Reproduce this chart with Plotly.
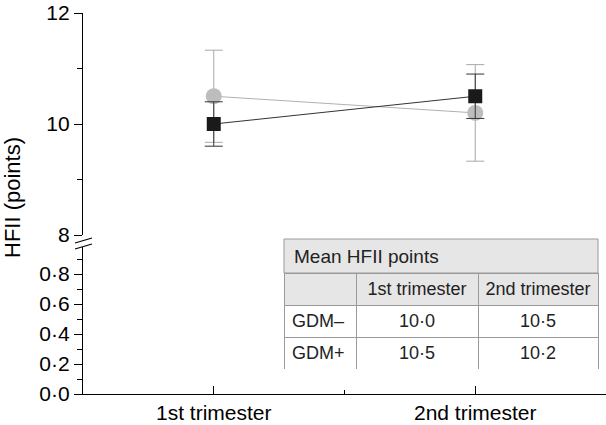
import plotly.graph_objects as go

# Mean HFII points per trimester
trimesters = ["1st trimester", "2nd trimester"]
trimester_pos = [1, 2]
groups = ["GDM–", "GDM+"]
gdm_neg_mean = [10.0, 10.5]
gdm_neg_err = [0.40, 0.40]
gdm_pos_mean = [10.5, 10.2]
gdm_pos_err = [0.83, 0.87]

FONT = "Liberation Sans, Arial, Helvetica, sans-serif"


def fmt(v):
    return f"{v:.1f}".replace(".", "·")


def nobreak(s):
    return s.replace(" ", "\u00a0")


# plot area in pixels: left 83, right 606, top 13, bottom 394
W, H = 606, 425
L, R, T, B = 83, 0, 13, 31
PW, PH = W - L - R, H - T - B


def px(x):
    return (x - L) / PW


def py(y):
    return (H - B - y) / PH


fig = go.Figure()

# empty trace so the lower (0-1) axis segment exists
fig.add_trace(go.Scatter(x=trimester_pos, y=[None, None], mode="markers",
                         xaxis="x", yaxis="y", showlegend=False, hoverinfo="skip"))

# GDM+ (grey circles)
fig.add_trace(go.Scatter(
    x=trimester_pos, y=gdm_pos_mean,
    mode="lines+markers",
    line=dict(color="#b0b0b0", width=1),
    marker=dict(symbol="circle", size=16, color="#bdbdbd"),
    error_y=dict(type="data", array=gdm_pos_err, color="#a8a8a8", thickness=1, width=9),
    xaxis="x", yaxis="y2", showlegend=False, name="GDM+"
))

# GDM- (black squares)
fig.add_trace(go.Scatter(
    x=trimester_pos, y=gdm_neg_mean,
    mode="lines+markers",
    line=dict(color="#333333", width=1),
    marker=dict(symbol="square", size=14, color="#1a1a1a"),
    error_y=dict(type="data", array=gdm_neg_err, color="#333333", thickness=1, width=9),
    xaxis="x", yaxis="y2", showlegend=False, name="GDM–"
))

# table of means
tx0, tx1 = px(284), px(598)
fig.add_trace(go.Table(
    domain=dict(x=[tx0, tx1], y=[py(369), py(273)]),
    columnwidth=[72, 122, 120],
    header=dict(
        values=[""] + [nobreak(t) for t in trimesters],
        fill_color="#e6e6e6",
        line=dict(color="#9a9a9a", width=1),
        font=dict(family=FONT, size=18, color="#222"),
        align=["left", "center", "center"],
        height=32,
    ),
    cells=dict(
        values=[groups,
                [fmt(gdm_neg_mean[0]), fmt(gdm_pos_mean[0])],
                [fmt(gdm_neg_mean[1]), fmt(gdm_pos_mean[1])]],
        fill_color="white",
        line=dict(color="#9a9a9a", width=1),
        font=dict(family=FONT, size=18, color="#222"),
        align=["left", "center", "center"],
        height=32,
    ),
))

# table title row
fig.add_shape(type="rect", xref="paper", yref="paper",
              x0=tx0, x1=tx1, y0=py(273), y1=py(239),
              fillcolor="#e6e6e6", line=dict(color="#9a9a9a", width=1))
fig.add_annotation(xref="paper", yref="paper", x=(tx0 + tx1) / 2, y=py(256),
                   text="Mean HFII points", showarrow=False,
                   font=dict(family=FONT, size=19, color="#222"))

# axis break marks
for y0 in (243, 249):
    fig.add_shape(type="line", xref="paper", yref="paper",
                  x0=px(75), y0=py(y0), x1=px(92), y1=py(y0 - 5),
                  line=dict(color="black", width=1.3))

# y axis title
fig.add_annotation(xref="paper", yref="paper", x=px(13), y=py(198),
                   xanchor="center", yanchor="middle",
                   text="HFII (points)", textangle=-90, showarrow=False,
                   font=dict(family=FONT, size=22, color="black"))

axis_common = dict(showgrid=False, zeroline=False, showline=True,
                   linecolor="black", linewidth=1.3, automargin=False,
                   tickcolor="black", tickwidth=1.3,
                   tickfont=dict(family=FONT, size=21, color="black"))

fig.update_layout(
    width=W, height=H,
    margin=dict(l=L, r=R, t=T, b=B, autoexpand=False),
    plot_bgcolor="white", paper_bgcolor="white",
    separators="·,",
    xaxis=dict(range=[0.5, 2.5], tickvals=trimester_pos, ticktext=trimesters,
               ticks="inside", ticklen=8, anchor="y",
               minor=dict(ticks="inside", ticklen=4, tick0=0.5, dtick=0.5,
                          tickcolor="black", tickwidth=1.3, showgrid=False),
               **axis_common),
    yaxis=dict(domain=[0, py(247)], range=[0, 0.98], dtick=0.2, tick0=0,
               tickformat=".1f", ticks="outside", ticklen=8, anchor="x",
               minor=dict(ticks="outside", ticklen=5, dtick=0.1, tick0=0,
                          tickcolor="black", tickwidth=1.3, showgrid=False),
               **axis_common),
    yaxis2=dict(domain=[py(235), 1], range=[8, 12], dtick=2, tick0=8,
                ticks="outside", ticklen=8, anchor="x",
                minor=dict(ticks="outside", ticklen=5, dtick=1, tick0=8,
                           tickcolor="black", tickwidth=1.3, showgrid=False),
                **axis_common),
)

# the page gets a default 8px body margin; drop it so the figure sits at 0,0
fig.write_html("out.html", config={"displayModeBar": False},
               post_script="document.body.style.margin='0';")
